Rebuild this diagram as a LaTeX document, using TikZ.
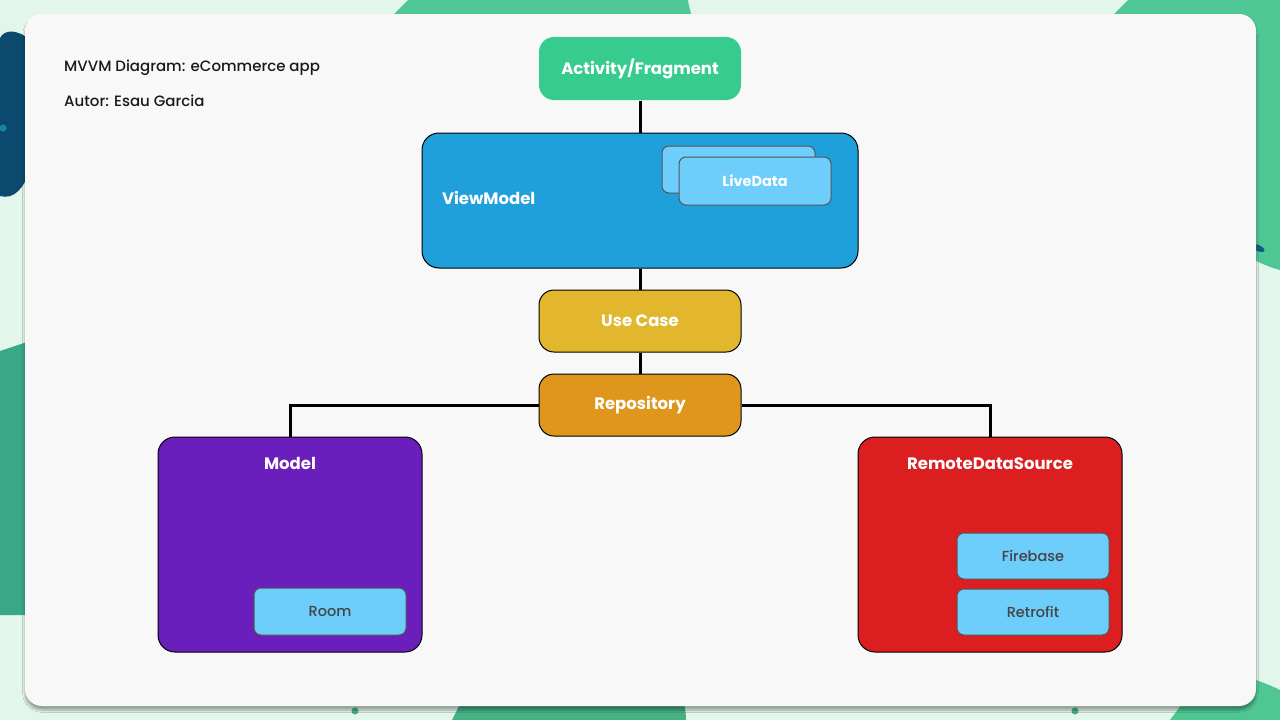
\documentclass[tikz,border=0pt]{standalone}
\usepackage{fontspec}
\setmainfont{Poppins}
\newfontfamily\medfont{Poppins}[UprightFont=* Medium, BoldFont=* SemiBold]
\usetikzlibrary{shadows.blur}
\definecolor{bgmint}{HTML}{E3F6EC}
\definecolor{blobgreen}{HTML}{4EC794}
\definecolor{blobteal}{HTML}{3AA887}
\definecolor{blobbottom}{HTML}{45B185}
\definecolor{navy}{HTML}{0B4A6E}
\definecolor{tealspot}{HTML}{0E8AA0}
\definecolor{cardbg}{HTML}{F8F8F8}
\definecolor{actgreen}{HTML}{37CB8F}
\definecolor{vmblue}{HTML}{1FA0DB}
\definecolor{ldblue}{HTML}{6DCDFB}
\definecolor{ucyellow}{HTML}{E2B72E}
\definecolor{repoorange}{HTML}{DE961D}
\definecolor{modelpurple}{HTML}{6A1EBC}
\definecolor{rdsred}{HTML}{DB1F21}
\definecolor{subtext}{HTML}{444444}
\definecolor{subborder}{HTML}{555555}
\tikzset{
  lblfont/.style={font=\fontsize{16.5}{18}\selectfont\bfseries},
  box/.style={draw=black, line width=1pt, inner sep=0pt, lblfont, text=white},
  subbox/.style={draw=subborder, line width=1pt, fill=ldblue, rounded corners=7pt, inner sep=0pt, minimum width=152pt, font=\medfont\fontsize{14.5}{16}\selectfont, text=subtext},
  conn/.style={draw=black, line width=3pt},
  titletext/.style={anchor=west, inner sep=0pt, font=\medfont\fontsize{15}{17}\selectfont, text=black!90}
}
\begin{document}
\begin{tikzpicture}[x=1pt,y=-1pt]
\useasboundingbox (0,0) rectangle (1280,720);
% background
\fill[bgmint] (0,0) rectangle (1280,720);
% blobs
\fill[blobgreen] (388,20) -- (408,0) -- (688,0) .. controls (689,8) and (691,14) .. (694,22) -- cycle;
\fill[blobgreen] (1108,20) -- (1128,0) -- (1280,0) -- (1280,270) .. controls (1272,268) and (1262,264) .. (1250,258) -- (1250,20) -- cycle;
\fill[blobgreen] (1250,678) .. controls (1262,682) and (1272,686) .. (1280,690) -- (1280,720) -- (1250,720) -- cycle;
\fill[blobgreen] (1170,720) -- (1185,700) -- (1260,700) -- (1260,720) -- cycle;
\fill[navy] (30,40) .. controls (16,28) and (4,30) .. (0,38) -- (0,196) .. controls (14,200) and (24,188) .. (30,170) -- cycle;
\fill[tealspot] (3,128) circle[radius=3.5];
\fill[navy!70!tealspot] (1258,248) ellipse[x radius=7, y radius=3, rotate=-25];
\fill[blobteal] (0,351) -- (30,341) -- (30,615) -- (0,615) -- cycle;
\fill[blobbottom] (452,720) -- (462,700) -- (684,700) .. controls (685,707) and (686,714) .. (686,720) -- cycle;
\fill[blobbottom] (355,711) circle[radius=3.5];
\fill[blobbottom] (1075,711) circle[radius=3.5];
% card
\fill[cardbg, rounded corners=17pt, blur shadow={shadow xshift=0pt, shadow yshift=-4pt, shadow blur steps=14, shadow blur extra rounding=5pt, shadow opacity=35}] (25,14) rectangle (1256,706);
% titles
\node[titletext] (t1) at (64,68) {MVVM Diagram: eCommerce app};
\node[titletext] (t2) at (64,101) {Autor: Esau Garcia};
% main nodes
\node[box, draw=none, fill=actgreen, rounded corners=15pt, minimum width=202pt, minimum height=63pt] (act) at (640,68.5) {Activity/Fragment};
\node[box, fill=vmblue, rounded corners=17pt, minimum width=436pt, minimum height=135pt, label={[anchor=west, xshift=17pt, yshift=2.5pt, text=white, lblfont]west:ViewModel}] (vm) at (640,200.5) {};
\node[subbox, minimum width=153pt, minimum height=47pt] (ldback) at (738.5,169.5) {};
\node[subbox, minimum height=48pt, text=white, font=\fontsize{14.5}{16}\selectfont\bfseries] (ld) at (755,181) {LiveData};
\node[box, fill=ucyellow, rounded corners=15pt, minimum width=202pt, minimum height=62pt] (uc) at (640,321) {Use Case};
\node[box, fill=repoorange, rounded corners=15pt, minimum width=202pt, minimum height=62pt] (repo) at (640,405) {Repository};
\node[box, fill=modelpurple, rounded corners=17pt, minimum width=264pt, minimum height=215pt, label={[anchor=center, yshift=-27pt, text=white, lblfont]north:Model}] (model) at (290,544.5) {};
\node[box, fill=rdsred, rounded corners=17pt, minimum width=264pt, minimum height=215pt, label={[anchor=center, yshift=-27pt, text=white, lblfont]north:RemoteDataSource}] (rds) at (990,544.5) {};
\node[subbox, minimum height=47pt] (room) at (330,611.5) {Room};
\node[subbox, minimum height=46pt] (fb) at (1033,556) {Firebase};
\node[subbox, minimum height=46pt] (rf) at (1033,612) {Retrofit};
% connectors
\draw[conn] (act) -- (vm);
\draw[conn] (vm) -- (uc);
\draw[conn] (uc) -- (repo);
\draw[conn] (repo.west) -| (model.north);
\draw[conn] (repo.east) -| (rds.north);
\end{tikzpicture}
\end{document}
